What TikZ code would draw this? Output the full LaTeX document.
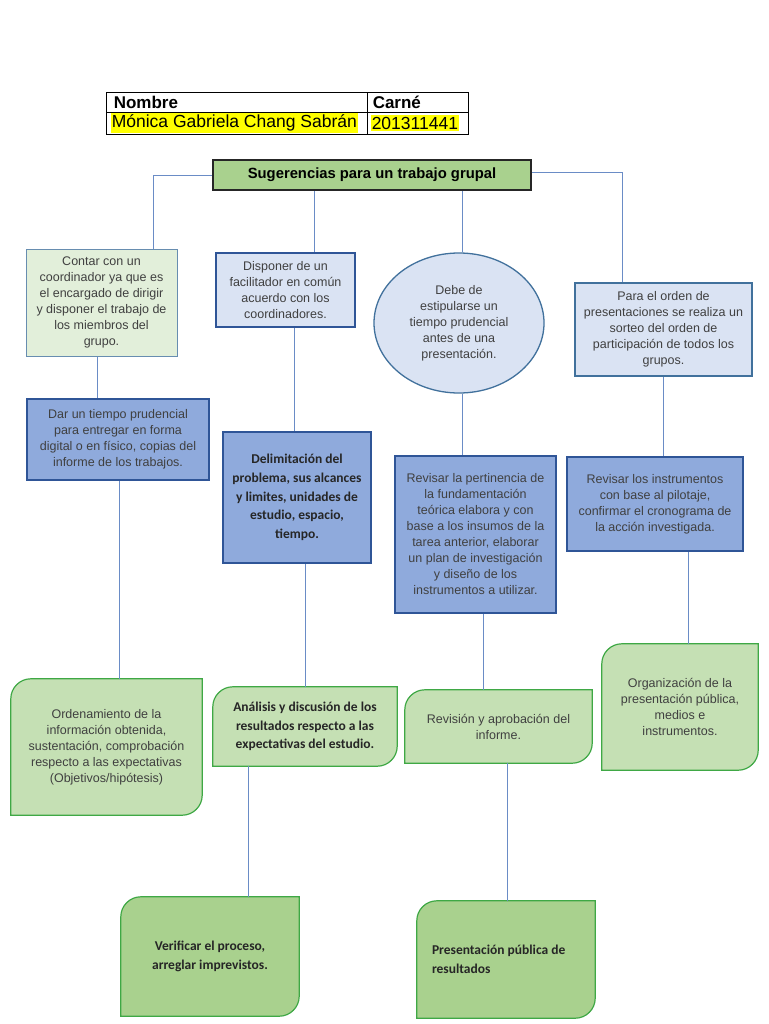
\documentclass[tikz,border=0pt]{standalone}
\usepackage{fontspec}
\setmainfont{Liberation Sans}
\newfontfamily\calib{Carlito}
\usetikzlibrary{backgrounds,shapes.geometric}
\definecolor{lblue}{HTML}{DAE3F3}
\definecolor{mblue}{HTML}{8FAADC}
\definecolor{dblue}{HTML}{2F5597}
\definecolor{bblue}{HTML}{41719C}
\definecolor{lgreen}{HTML}{E2EFDA}
\definecolor{greenA}{HTML}{C5E0B4}
\definecolor{greenB}{HTML}{A9D18E}
\definecolor{gbord}{HTML}{3FA845}
\definecolor{conn}{HTML}{6A8CC6}
\definecolor{txt}{HTML}{404040}
\definecolor{hl}{HTML}{FFFF00}
\tikzset{
  body/.style={font=\fontsize{12.5}{16}\selectfont, text=txt, align=center, inner sep=0pt},
  bodyb/.style={font=\calib\bfseries\fontsize{13.5}{18.7}\selectfont, text=black!85, align=center, inner sep=0pt},
  conline/.style={draw=conn, line width=0.9pt},
  rbox/.style={rectangle, inner sep=0pt},
  tabtext/.style={anchor=west, font=\fontsize{17.5}{18}\selectfont, inner sep=0pt}
}
\newcommand\greenshape[2]{%
  \begin{pgfonlayer}{background}
  \path[draw=gbord, line width=1.2pt, fill=#2]
    (#1.south west) -- ([yshift=-20pt]#1.north west)
    .. controls ([yshift=-9pt]#1.north west) and ([xshift=9pt]#1.north west) .. ([xshift=20pt]#1.north west)
    -- (#1.north east) -- ([yshift=20pt]#1.south east)
    .. controls ([yshift=9pt]#1.south east) and ([xshift=-9pt]#1.south east) .. ([xshift=-20pt]#1.south east)
    -- cycle;
  \end{pgfonlayer}}
\begin{document}
\begin{tikzpicture}[x=1pt,y=-1pt]
\begin{pgfonlayer}{background}
\fill[white] (0,0) rectangle (768,1024);
\end{pgfonlayer}
\useasboundingbox (0,0) rectangle (768,1024);

% table
\node[draw=black, line width=0.9pt, rectangle, minimum width=261, minimum height=20, inner sep=0pt] (c11) at (236.5,102) {};
\node[draw=black, line width=0.9pt, rectangle, minimum width=101, minimum height=20, inner sep=0pt] (c12) at (417.5,102) {};
\node[draw=black, line width=0.9pt, rectangle, minimum width=261, minimum height=22, inner sep=0pt] (c21) at (236.5,123) {};
\node[draw=black, line width=0.9pt, rectangle, minimum width=101, minimum height=22, inner sep=0pt] (c22) at (417.5,123) {};
\node[tabtext, font=\bfseries\fontsize{17}{18}\selectfont] (tn) at ([xshift=8pt]c11.west) {Nombre};
\node[tabtext, font=\bfseries\fontsize{17}{18}\selectfont] (tc) at ([xshift=6pt]c12.west) {Carné};
\node[tabtext, fill=hl, inner xsep=1pt, inner ysep=2pt] (tv) at ([xshift=5pt]c21.west) {Mónica Gabriela Chang Sabrán};
\node[tabtext, fill=hl, inner xsep=1pt, inner ysep=2pt] (tw) at ([xshift=4pt]c22.west) {201311441};

% title
\node[draw=black!85, line width=1.3pt, fill=greenB, minimum width=318, minimum height=30, inner sep=0pt,
      font=\bfseries\fontsize{14.8}{16}\selectfont] (t) at (372,175) {Sugerencias para un trabajo grupal};

% row 1
\node[body, draw=bblue!80, line width=1pt, fill=lgreen, minimum width=151, minimum height=107] (b1) at (101.5,302.5)
  {Contar con un\\coordinador ya que es\\el encargado de dirigir\\y disponer el trabajo de\\los miembros del\\grupo.};
\node[body, draw=dblue, line width=1.5pt, fill=lblue, minimum width=139, minimum height=74] (b2) at (285.5,290)
  {Disponer de un\\facilitador en común\\acuerdo con los\\coordinadores.};
\node[body, ellipse, draw=bblue, line width=1.3pt, fill=lblue, minimum width=170, minimum height=140] (e) at (459,323)
  {Debe de\\estipularse un\\tiempo prudencial\\antes de una\\presentación.};
\node[body, draw=bblue, line width=1.3pt, fill=lblue, minimum width=177, minimum height=93] (b4) at (663.5,329.5)
  {Para el orden de\\presentaciones se realiza un\\sorteo del orden de\\participación de todos los\\grupos.};

% row 2
\node[body, draw=dblue, line width=1.5pt, fill=mblue, minimum width=182, minimum height=81] (b5) at (118,439.5)
  {Dar un tiempo prudencial\\para entregar en forma\\digital o en físico, copias del\\informe de los trabajos.};
\node[bodyb, draw=dblue, line width=1.5pt, fill=mblue, minimum width=148, minimum height=131] (b6) at (297,497.5)
  {Delimitación del\\problema, sus alcances\\y limites, unidades de\\estudio, espacio,\\tiempo.};
\node[body, draw=dblue, line width=1.5pt, fill=mblue, minimum width=161, minimum height=157] (b7) at (475.5,534.5)
  {Revisar la pertinencia de\\la fundamentación\\teórica elabora y con\\base a los insumos de la\\tarea anterior, elaborar\\un plan de investigación\\y diseño de los\\instrumentos a utilizar.};
\node[body, draw=dblue, line width=1.5pt, fill=mblue, minimum width=176, minimum height=94] (b8) at (655,504)
  {Revisar los instrumentos\\con base al pilotaje,\\confirmar el cronograma de\\la acción investigada.};

% row 3
\node[body, rbox, minimum width=191, minimum height=136] (b9) at (106.5,747)
  {Ordenamiento de la\\información obtenida,\\sustentación, comprobación\\respecto a las expectativas\\(Objetivos/hipótesis)};
\greenshape{b9}{greenA}
\node[bodyb, rbox, minimum width=184, minimum height=79] (b10) at (305,726.5)
  {Análisis y discusión de los\\resultados respecto a las\\expectativas del estudio.};
\greenshape{b10}{greenA}
\node[body, rbox, minimum width=187, minimum height=73] (b11) at (498.5,726.5)
  {Revisión y aprobación del\\informe.};
\greenshape{b11}{greenA}
\node[body, rbox, minimum width=156, minimum height=126] (b12) at (680,707)
  {Organización de la\\presentación pública,\\medios e\\instrumentos.};
\greenshape{b12}{greenA}

% row 4
\node[bodyb, rbox, minimum width=178, minimum height=119] (b13) at (210,956.5)
  {Verificar el proceso,\\arreglar imprevistos.};
\greenshape{b13}{greenB}
\node[bodyb, rbox, align=flush left, text width=148, minimum width=178, minimum height=117] (b14) at (506,959.5)
  {Presentación pública de\\resultados};
\greenshape{b14}{greenB}

% connector x positions
\coordinate (x1) at (153,0);
\coordinate (x2) at (314,0);
\coordinate (x3) at (462,0);
\coordinate (x4) at (622,0);
\coordinate (x5) at (97,0);
\coordinate (x6) at (294,0);
\coordinate (x7) at (462,0);
\coordinate (x8) at (663,0);
\coordinate (x9) at (119,0);
\coordinate (x10) at (305,0);
\coordinate (x11) at (483,0);
\coordinate (x12) at (688,0);
\coordinate (x13) at (248,0);
\coordinate (x14) at (507,0);

\begin{pgfonlayer}{background}
\draw[conline] (t.west) -| (b1.north -| x1);
\draw[conline] (t.south -| x2) -- (b2.north -| x2);
\draw[conline] (t.south -| x3) -- (e.north -| x3);
\draw[conline] ([yshift=3pt]t.east) -| (b4.north -| x4);
\draw[conline] (b1.south -| x5) -- (b5.north -| x5);
\draw[conline] (b2.south -| x6) -- (b6.north -| x6);
\draw[conline] (e.south -| x7) -- (b7.north -| x7);
\draw[conline] (b4.south -| x8) -- (b8.north -| x8);
\draw[conline] (b5.south -| x9) -- (b9.north -| x9);
\draw[conline] (b6.south -| x10) -- (b10.north -| x10);
\draw[conline] (b7.south -| x11) -- (b11.north -| x11);
\draw[conline] (b8.south -| x12) -- (b12.north -| x12);
\draw[conline] (b10.south -| x13) -- (b13.north -| x13);
\draw[conline] (b11.south -| x14) -- (b14.north -| x14);
\end{pgfonlayer}
\end{tikzpicture}
\end{document}
